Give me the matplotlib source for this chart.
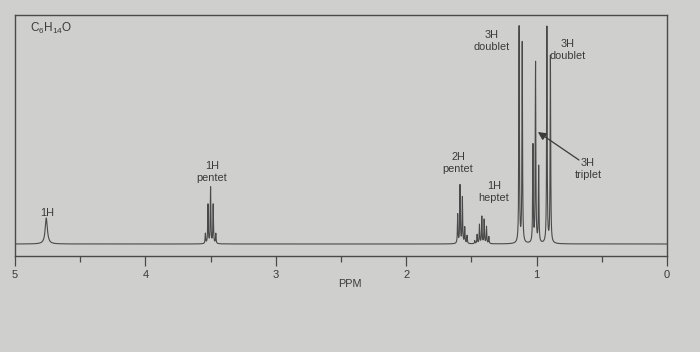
import matplotlib
matplotlib.use('Agg')
import matplotlib.pyplot as plt
import numpy as np

# peak lists: (ppm, height above baseline)
singlet_ppm = [4.76]
singlet_h = [26]
pentet_a_ppm = [3.54, 3.52, 3.50, 3.48, 3.46]
pentet_a_h = [10, 39, 56, 39, 10]
pentet_b_ppm = [1.605, 1.587, 1.569, 1.551, 1.533]
pentet_b_h = [29, 58, 46, 16, 8]
heptet_ppm = [1.474, 1.456, 1.438, 1.420, 1.402, 1.384, 1.366]
heptet_h = [3, 9, 19, 27, 24, 17, 7]
doublet_a_ppm = [1.134, 1.110]
doublet_a_h = [216, 200]
triplet_ppm = [1.028, 1.008, 0.984]
triplet_h = [97, 180, 76]
doublet_b_ppm = [0.921, 0.894]
doublet_b_h = [216, 187]

major_ticks = [5, 4, 3, 2, 1, 0]
minor_ticks = [4.5, 3.5, 2.5, 1.5, 0.5]

plt.rcParams['font.family'] = ['Liberation Sans', 'DejaVu Sans']
plt.rcParams['mathtext.default'] = 'regular'

bg = '#cfcfcd'
ink = '#4a4a4a'


def lorentz(x, centers, heights, fwhm):
    y = np.zeros_like(x)
    for c, h in zip(centers, heights):
        y += h / (1 + ((x - c) / (fwhm / 2)) ** 2)
    return y


ppm = np.linspace(0, 5, 40001)
spec = lorentz(ppm, singlet_ppm, singlet_h, 0.02)
for c, h in [(pentet_a_ppm, pentet_a_h), (pentet_b_ppm, pentet_b_h),
             (heptet_ppm, heptet_h), (doublet_a_ppm, doublet_a_h),
             (triplet_ppm, triplet_h), (doublet_b_ppm, doublet_b_h)]:
    spec += lorentz(ppm, c, h, 0.005)

fig = plt.figure(figsize=(7, 3.52), dpi=100, facecolor=bg)
ax = fig.add_axes([15 / 700, 96 / 352, 652 / 700, 241 / 352])
ax.set_facecolor(bg)

ax.plot(ppm, spec, color=ink, lw=0.8)
ax.set_xlim(5, 0)
ax.set_ylim(-12, 229)

for s in ax.spines.values():
    s.set_color(ink)
    s.set_linewidth(1.0)

ax.set_xticks(major_ticks)
ax.set_xticklabels([str(t) for t in major_ticks])
ax.set_xticks(minor_ticks, minor=True)
ax.tick_params(axis='x', which='major', direction='out', length=7, width=0.9,
               color=ink, labelcolor='#3a3a3a', labelsize=8, pad=3)
ax.tick_params(axis='x', which='minor', direction='out', length=4, width=0.9,
               color=ink)
ax.set_yticks([])

ax.set_xlabel('PPM', fontsize=7.8, color='#3a3a3a')
ax.xaxis.set_label_coords(335 / 652, -0.095)

txt = dict(fontsize=7.8, color='#3a3a3a', ha='center', va='center',
           linespacing=1.15)
ax.text(4.885, 216, 'C$_6$H$_{14}$O', fontsize=8.5, color='#3a3a3a',
        ha='left', va='center')
ax.text(1.342, 203, '3H\ndoublet', **txt)
ax.text(0.759, 194, '3H\ndoublet', **txt)
ax.text(1.603, 81, '2H\npentet', **txt)
ax.text(1.327, 52, '1H\nheptet', **txt)
ax.text(3.489, 72, '1H\npentet', **txt)
ax.text(4.755, 31, '1H', **txt)
ax.text(0.606, 75, '3H\ntriplet', **txt)
ax.annotate('', xy=(0.99, 112), xytext=(0.675, 84),
            arrowprops=dict(arrowstyle='-|>', color='#3a3a3a', lw=0.9,
                            mutation_scale=12, shrinkA=0, shrinkB=0))

fig.savefig('out.png', dpi=100, facecolor=bg)
